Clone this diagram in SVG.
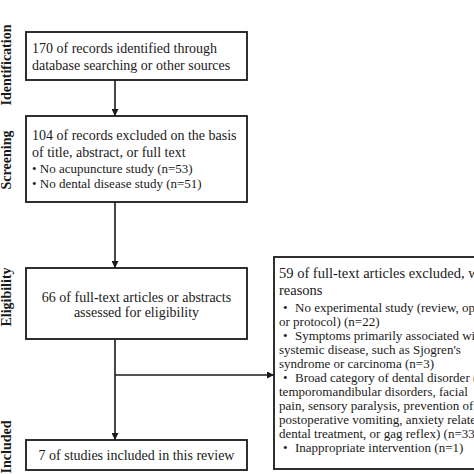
<svg xmlns="http://www.w3.org/2000/svg" width="474" height="474" viewBox="0 0 474 474">
<defs>
<style>
.box{fill:#fff;stroke:#1a1a1a;stroke-width:1.8}
.t{font-family:"Liberation Serif","Times New Roman",serif;fill:#1a1a1a}
.m{font-size:14px}
.h{font-size:14.5px}
.s{font-size:13px}
.r{font-size:13px}
.lab{font-family:"Liberation Serif","Times New Roman",serif;font-weight:bold;font-size:14px;fill:#1a1a1a;text-anchor:middle}
.c{fill:none;stroke:#1a1a1a;stroke-width:1.6}
</style>
<marker id="ah" viewBox="0 0 10 10" refX="10" refY="5" markerWidth="7" markerHeight="7" markerUnits="userSpaceOnUse" orient="auto">
<path d="M0,0 L10,5 L0,10 z" fill="#1a1a1a"/>
</marker>
</defs>
<rect width="474" height="474" fill="#fff"/>
<g id="labels">
<text class="lab" transform="translate(11,65) rotate(-90)">Identification</text>
<text class="lab" transform="translate(11,160) rotate(-90)">Screening</text>
<text class="lab" transform="translate(11,297) rotate(-90)">Eligibility</text>
<text class="lab" transform="translate(11,447) rotate(-90)">Included</text>
</g>
<g id="connectors">
<line class="c" x1="115" y1="80" x2="115" y2="116" marker-end="url(#ah)"/>
<line class="c" x1="115" y1="202" x2="115" y2="268" marker-end="url(#ah)"/>
<line class="c" x1="115" y1="339" x2="115" y2="440" marker-end="url(#ah)"/>
<line class="c" x1="115" y1="375" x2="274" y2="375" marker-end="url(#ah)"/>
</g>
<g id="identified">
<rect class="box" x="26" y="32" width="221" height="48"/>
<text class="t m" x="32" y="53">170 of records identified through</text>
<text class="t m" x="32" y="70">database searching or other sources</text>
</g>
<g id="screening">
<rect class="box" x="26" y="116" width="221" height="86"/>
<text class="t m" x="32" y="140">104 of records excluded on the basis</text>
<text class="t m" x="32" y="157">of title, abstract, or full text</text>
<text class="t s" x="32" y="173">• No acupuncture study (n=53)</text>
<text class="t s" x="32" y="188">• No dental disease study (n=51)</text>
</g>
<g id="eligibility">
<rect class="box" x="26" y="268" width="221" height="71"/>
<text class="t m" x="136.5" y="302" text-anchor="middle">66 of full-text articles or abstracts</text>
<text class="t m" x="136.5" y="317" text-anchor="middle">assessed for eligibility</text>
</g>
<g id="included">
<rect class="box" x="26" y="440" width="221" height="30"/>
<text class="t m" x="136.5" y="460" text-anchor="middle">7 of studies included in this review</text>
</g>
<g id="excluded">
<rect class="box" x="274" y="257" width="230" height="212"/>
<text class="t h" x="279" y="278">59 of full-text articles excluded, with</text>
<text class="t h" x="279" y="295">reasons</text>
<text class="t r" x="283" y="312">•</text>
<text class="t r" x="295" y="312">No experimental study (review, opinion,</text>
<text class="t r" x="279" y="326">or protocol) (n=22)</text>
<text class="t r" x="283" y="340">•</text>
<text class="t r" x="295" y="340">Symptoms primarily associated with</text>
<text class="t r" x="279" y="354">systemic disease, such as Sjogren's</text>
<text class="t r" x="279" y="368">syndrome or carcinoma (n=3)</text>
<text class="t r" x="283" y="382">•</text>
<text class="t r" x="295" y="382">Broad category of dental disorder (i.e.,</text>
<text class="t r" x="279" y="396">temporomandibular disorders, facial</text>
<text class="t r" x="279" y="410">pain, sensory paralysis, prevention of</text>
<text class="t r" x="279" y="424">postoperative vomiting, anxiety related to</text>
<text class="t r" x="279" y="438">dental treatment, or gag reflex) (n=33)</text>
<text class="t r" x="283" y="452">•</text>
<text class="t r" x="295" y="452">Inappropriate intervention (n=1)</text>
</g>
</svg>
